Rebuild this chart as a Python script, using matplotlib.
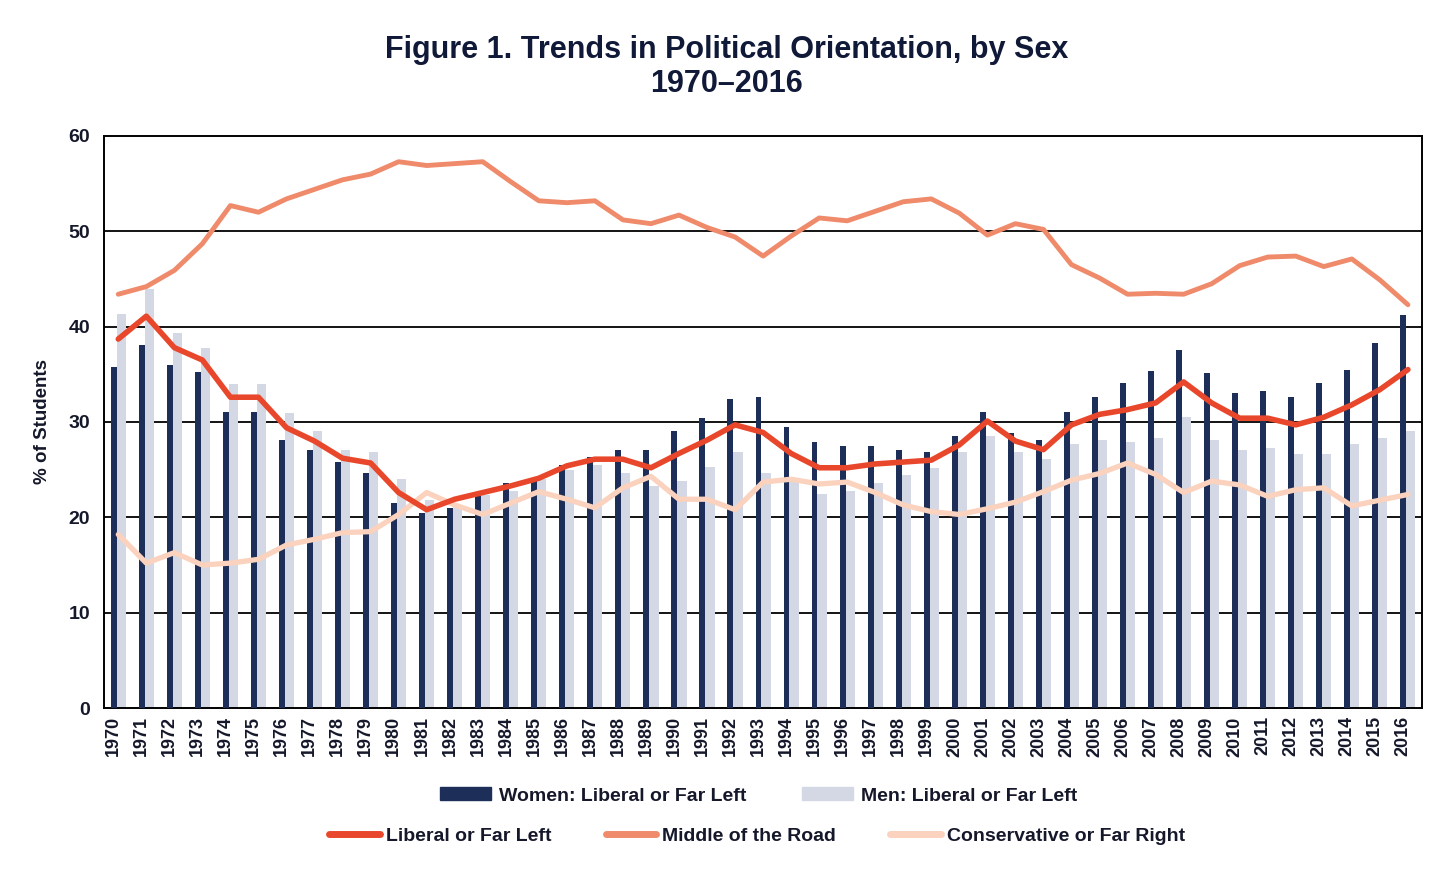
import numpy as np
import matplotlib
matplotlib.use('Agg')
import matplotlib.pyplot as plt
from matplotlib.lines import Line2D
from matplotlib.patches import Patch

# 글꼴
plt.rcParams['font.family'] = ['Liberation Sans', 'DejaVu Sans']
plt.rcParams['font.weight'] = 'bold'

years = list(range(1970, 2017))

# 여학생 / 남학생 진보 비율 (막대)
women = [35.8, 38.1, 36.0, 35.2, 31.1, 31.1, 28.1, 27.1, 25.8, 24.6,
         21.5, 20.5, 21.0, 22.2, 23.6, 23.8, 25.5, 26.3, 27.1, 27.1,
         29.1, 30.4, 32.4, 32.6, 29.5, 27.9, 27.5, 27.5, 27.1, 26.9,
         28.5, 31.0, 28.8, 28.1, 31.0, 32.6, 34.1, 35.3, 37.5, 35.1,
         33.0, 33.2, 32.6, 34.1, 35.5, 38.3, 41.2]
men = [41.3, 43.9, 39.3, 37.8, 34.0, 34.0, 30.9, 29.1, 27.1, 26.9,
       24.0, 21.8, 21.2, 22.3, 22.8, 24.0, 25.0, 25.5, 24.6, 23.3,
       23.8, 25.3, 26.9, 24.6, 23.8, 22.4, 22.8, 23.6, 24.4, 25.2,
       26.9, 28.5, 26.9, 26.1, 27.7, 28.1, 27.9, 28.3, 30.5, 28.1,
       27.1, 27.3, 26.6, 26.6, 27.7, 28.3, 29.1]

# 전체 (선)
liberal = [38.7, 41.1, 37.8, 36.5, 32.6, 32.6, 29.4, 28.0, 26.2, 25.7,
           22.6, 20.8, 21.9, 22.6, 23.3, 24.1, 25.4, 26.1, 26.1, 25.2,
           26.7, 28.1, 29.7, 28.9, 26.7, 25.2, 25.2, 25.6, 25.8, 26.0,
           27.6, 30.1, 28.0, 27.1, 29.7, 30.8, 31.3, 32.0, 34.2, 32.0,
           30.4, 30.4, 29.7, 30.5, 31.8, 33.4, 35.5]
middle = [43.4, 44.2, 45.9, 48.7, 52.7, 52.0, 53.4, 54.4, 55.4, 56.0,
          57.3, 56.9, 57.1, 57.3, 55.2, 53.2, 53.0, 53.2, 51.2, 50.8,
          51.7, 50.4, 49.4, 47.4, 49.5, 51.4, 51.1, 52.1, 53.1, 53.4,
          51.9, 49.6, 50.8, 50.2, 46.5, 45.1, 43.4, 43.5, 43.4, 44.5,
          46.4, 47.3, 47.4, 46.3, 47.1, 44.9, 42.3]
conservative = [18.2, 15.2, 16.3, 15.0, 15.2, 15.6, 17.1, 17.7, 18.4, 18.5,
                20.3, 22.6, 21.3, 20.3, 21.5, 22.7, 21.9, 21.0, 23.1, 24.3,
                21.9, 21.9, 20.8, 23.7, 24.0, 23.5, 23.7, 22.6, 21.3, 20.6,
                20.3, 20.9, 21.6, 22.7, 23.9, 24.6, 25.7, 24.5, 22.6, 23.8,
                23.4, 22.2, 22.9, 23.1, 21.2, 21.8, 22.4]

navy = '#1d2f58'
light = '#d4d8e4'
red = '#e9472b'
salmon = '#ef8a6b'
peach = '#fad2be'
txt = '#15182a'

x = np.arange(len(years))

fig = plt.figure(figsize=(14.56, 8.71), dpi=100)
ax = fig.add_axes([0.0716, 0.1871, 0.905, 0.6568])

# 막대
ax.bar(x - 0.06, men, width=0.33, align='edge', color=light, zorder=2)
ax.bar(x - 0.27, women, width=0.21, align='edge', color=navy, zorder=3)

# 선
ax.plot(x, middle, color=salmon, lw=3.5, zorder=4, solid_joinstyle='round', solid_capstyle='round')
ax.plot(x, conservative, color=peach, lw=3.8, zorder=4, solid_joinstyle='round', solid_capstyle='round')
ax.plot(x, liberal, color=red, lw=4.0, zorder=5, solid_joinstyle='round', solid_capstyle='round')

ax.set_xlim(-0.5, len(years) - 0.5)
ax.set_ylim(0, 60)
ax.set_yticks(range(0, 70, 10))
for v in range(10, 60, 10):
    ax.axhline(v, color='black', lw=1.3, zorder=1)

ax.set_xticks(x - 0.17)
ax.set_xticklabels([str(y) for y in years], rotation=90, fontsize=13, color=txt)
ax.tick_params(axis='x', length=0, pad=6)
ax.tick_params(axis='y', length=0, pad=10, labelsize=14, labelcolor=txt)
for s in ax.spines.values():
    s.set_color('black')
    s.set_linewidth(1.4)

ax.set_ylabel('% of Students', fontsize=13.5, color=txt, fontweight='bold', labelpad=13)

fig.text(0.499, 0.943, 'Figure 1. Trends in Political Orientation, by Sex',
         ha='center', va='center', fontsize=22, color='#101a38')
fig.text(0.499, 0.903, '1970\u20132016', ha='center', va='center', fontsize=22,
         color='#101a38')

# 범례 (두 줄)
h1 = [Patch(color=navy), Patch(color=light)]
leg1 = fig.legend(h1, ['Women: Liberal or Far Left', 'Men: Liberal or Far Left'],
                  loc='center', bbox_to_anchor=(0.521, 0.086), ncol=2, frameon=False,
                  fontsize=14, handlelength=2.6, handleheight=0.65, columnspacing=2.9,
                  handletextpad=0.4)
for t in leg1.get_texts():
    t.set_color(txt)
h2 = [Line2D([], [], color=red, lw=5, solid_capstyle='round'),
      Line2D([], [], color=salmon, lw=5, solid_capstyle='round'),
      Line2D([], [], color=peach, lw=5, solid_capstyle='round')]
leg2 = fig.legend(h2, ['Liberal or Far Left', 'Middle of the Road', 'Conservative or Far Right'],
                  loc='center', bbox_to_anchor=(0.52, 0.040), ncol=3, frameon=False,
                  fontsize=14, handlelength=2.6, columnspacing=2.8, handletextpad=0.3)
for t in leg2.get_texts():
    t.set_color(txt)

fig.savefig('out.png', dpi=100, facecolor='white')
